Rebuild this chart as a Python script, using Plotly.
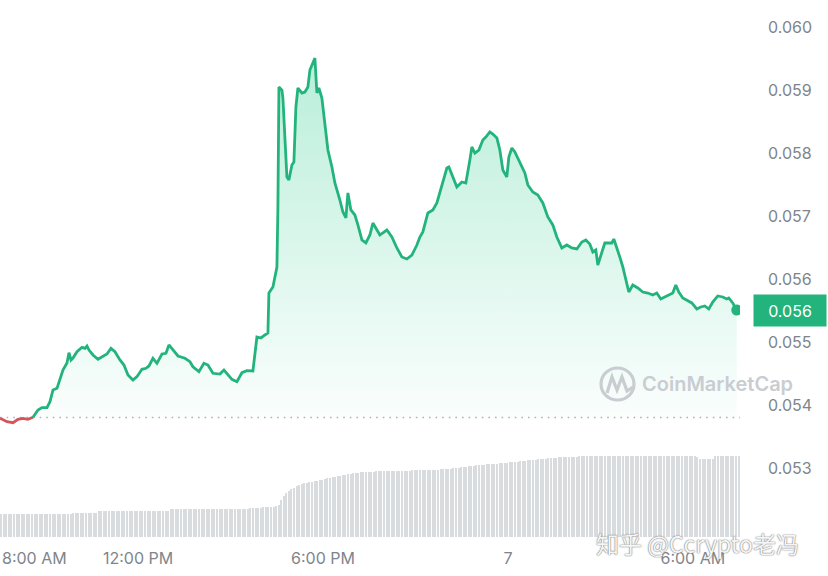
import plotly.graph_objects as go

# ---- price series (hours since 00:00 of day 6, price in USD) ----
hours = [7.520, 7.747, 7.942, 8.104, 8.266, 8.428, 8.590, 8.753, 8.882, 9.044, 9.142, 9.239,
         9.369, 9.466, 9.563, 9.693, 9.758, 9.823, 9.888, 10.018, 10.180, 10.277, 10.342, 10.407,
         10.537, 10.699, 10.861, 10.991, 11.120, 11.250, 11.412, 11.542, 11.672, 11.834, 11.964, 12.126,
         12.256, 12.353, 12.483, 12.612, 12.775, 12.904, 13.002, 13.131, 13.294, 13.521, 13.683, 13.780,
         13.975, 14.137, 14.267, 14.429, 14.656, 14.786, 14.915, 15.045, 15.207, 15.370, 15.532, 15.726,
         15.856, 15.986, 16.116, 16.213, 16.245, 16.375, 16.505, 16.537, 16.570, 16.667, 16.699, 16.764,
         16.829, 16.894, 16.991, 17.056, 17.121, 17.186, 17.316, 17.413, 17.510, 17.575, 17.672, 17.737,
         17.802, 17.867, 17.964, 18.062, 18.159, 18.289, 18.386, 18.548, 18.646, 18.743, 18.808, 18.905,
         19.035, 19.132, 19.262, 19.392, 19.521, 19.619, 19.748, 19.846, 19.943, 20.073, 20.235, 20.397,
         20.559, 20.721, 20.884, 21.046, 21.143, 21.240, 21.403, 21.565, 21.695, 21.857, 22.019, 22.084,
         22.214, 22.343, 22.505, 22.635, 22.765, 22.830, 22.927, 23.057, 23.187, 23.284, 23.414, 23.511,
         23.641, 23.738, 23.835, 23.965, 24.030, 24.127, 24.225, 24.387, 24.549, 24.646, 24.808, 24.971,
         25.133, 25.295, 25.457, 25.587, 25.749, 25.911, 26.073, 26.236, 26.398, 26.527, 26.657, 26.755,
         26.852, 26.917, 27.046, 27.144, 27.241, 27.371, 27.436, 27.533, 27.630, 27.728, 27.857, 27.922,
         28.052, 28.214, 28.376, 28.538, 28.701, 28.830, 28.960, 29.090, 29.252, 29.349, 29.446, 29.544,
         29.673, 29.803, 29.965, 30.128, 30.257, 30.387, 30.517, 30.646, 30.808, 30.971, 31.100, 31.165,
         31.295, 31.425]

price = [0.053789, 0.053735, 0.053720, 0.053773, 0.053789, 0.053773, 0.053805, 0.053921, 0.053958, 0.053958, 0.054053, 0.054239,
         0.054265, 0.054397, 0.054556, 0.054667, 0.054831, 0.054715, 0.054746, 0.054846, 0.054916, 0.054900, 0.054937, 0.054873,
         0.054794, 0.054726, 0.054767, 0.054810, 0.054900, 0.054846, 0.054715, 0.054635, 0.054477, 0.054397, 0.054450, 0.054567,
         0.054583, 0.054620, 0.054742, 0.054662, 0.054810, 0.054821, 0.054953, 0.054873, 0.054778, 0.054742, 0.054688, 0.054608,
         0.054529, 0.054662, 0.054635, 0.054504, 0.054492, 0.054556, 0.054477, 0.054408, 0.054370, 0.054513, 0.054545, 0.054540,
         0.055080, 0.055064, 0.055112, 0.055143, 0.055778, 0.055873, 0.056191, 0.057143, 0.059048, 0.059000, 0.058873, 0.058207,
         0.057620, 0.057572, 0.057810, 0.057858, 0.058731, 0.059032, 0.058953, 0.058969, 0.059048, 0.059318, 0.059445, 0.059508,
         0.058953, 0.059032, 0.058873, 0.058477, 0.058048, 0.057778, 0.057524, 0.057254, 0.057064, 0.056969, 0.057366, 0.057096,
         0.057016, 0.056858, 0.056620, 0.056572, 0.056699, 0.056889, 0.056778, 0.056699, 0.056731, 0.056778, 0.056667, 0.056493,
         0.056350, 0.056318, 0.056381, 0.056540, 0.056667, 0.056747, 0.057048, 0.057096, 0.057207, 0.057493, 0.057762, 0.057778,
         0.057604, 0.057461, 0.057540, 0.057524, 0.057889, 0.058096, 0.058000, 0.058048, 0.058207, 0.058254, 0.058334, 0.058302,
         0.058239, 0.058048, 0.057731, 0.057620, 0.057937, 0.058080, 0.058016, 0.057842, 0.057683, 0.057493, 0.057381, 0.057334,
         0.057207, 0.056985, 0.056858, 0.056667, 0.056493, 0.056540, 0.056493, 0.056477, 0.056588, 0.056620, 0.056556, 0.056429,
         0.056461, 0.056223, 0.056413, 0.056572, 0.056572, 0.056572, 0.056635, 0.056508, 0.056350, 0.056191, 0.055953, 0.055794,
         0.055905, 0.055858, 0.055794, 0.055778, 0.055747, 0.055778, 0.055683, 0.055715, 0.055762, 0.055778, 0.055905, 0.055794,
         0.055699, 0.055667, 0.055620, 0.055524, 0.055556, 0.055572, 0.055524, 0.055635, 0.055731, 0.055715, 0.055683, 0.055699,
         0.055620, 0.055508]

open_price = 0.053802

# ---- volume bars (5-minute buckets, arbitrary units) ----
volume = [2.30, 2.30, 2.28, 2.30, 2.32, 2.30, 2.30, 2.29, 2.30, 2.31, 2.30, 2.30,
          2.30, 2.32, 2.30, 2.30, 2.31, 2.30, 2.29, 2.30, 2.30, 2.32, 2.30, 2.31,
          2.30, 2.30, 2.30, 2.31, 2.43, 2.44, 2.43, 2.45, 2.44, 2.43, 2.44, 2.45,
          2.44, 2.45, 2.58, 2.60, 2.61, 2.60, 2.60, 2.62, 2.60, 2.61, 2.60, 2.60,
          2.62, 2.61, 2.60, 2.61, 2.62, 2.60, 2.61, 2.62, 2.63, 2.62, 2.61, 2.62,
          2.63, 2.62, 2.63, 2.64, 2.63, 2.64, 2.76, 2.77, 2.76, 2.78, 2.77, 2.77,
          2.78, 2.77, 2.78, 2.79, 2.78, 2.78, 2.79, 2.78, 2.79, 2.80, 2.79, 2.79,
          2.80, 2.80, 2.79, 2.80, 2.81, 2.80, 2.80, 2.81, 2.82, 2.81, 2.82, 2.83,
          2.84, 2.86, 2.88, 2.90, 2.92, 2.94, 2.96, 2.98, 3.00, 3.02, 3.05, 3.10,
          3.20, 3.70, 4.10, 4.40, 4.60, 4.80, 4.90, 5.10, 5.20, 5.30, 5.40, 5.45,
          5.50, 5.55, 5.60, 5.65, 5.70, 5.75, 5.85, 5.90, 5.95, 6.00, 6.05, 6.10,
          6.15, 6.20, 6.25, 6.30, 6.35, 6.40, 6.40, 6.45, 6.50, 6.50, 6.50, 6.52,
          6.55, 6.55, 6.57, 6.58, 6.60, 6.60, 6.60, 6.62, 6.62, 6.63, 6.63, 6.64,
          6.64, 6.65, 6.65, 6.65, 6.66, 6.66, 6.67, 6.68, 6.68, 6.70, 6.71, 6.72,
          6.73, 6.74, 6.75, 6.76, 6.78, 6.80, 6.82, 6.85, 6.88, 6.92, 6.95, 6.98,
          7.00, 7.03, 7.06, 7.10, 7.13, 7.16, 7.20, 7.22, 7.24, 7.26, 7.28, 7.30,
          7.32, 7.35, 7.37, 7.40, 7.42, 7.45, 7.47, 7.50, 7.52, 7.55, 7.58, 7.60,
          7.63, 7.66, 7.70, 7.72, 7.75, 7.78, 7.80, 7.82, 7.85, 7.88, 7.90, 7.93,
          7.95, 7.97, 7.99, 8.00, 8.02, 8.03, 8.04, 8.05, 8.05, 8.06, 8.06, 8.07,
          8.07, 8.08, 8.08, 8.08, 8.09, 8.08, 8.09, 8.10, 8.09, 8.10, 8.10, 8.09,
          8.10, 8.10, 8.10, 8.11, 8.10, 8.10, 8.11, 8.10, 8.10, 8.10, 8.11, 8.10,
          8.10, 8.10, 8.09, 8.10, 8.10, 8.11, 8.10, 8.10, 8.10, 8.10, 8.09, 8.10,
          8.10, 8.10, 8.10, 8.10, 8.09, 8.08, 8.06, 8.04, 7.80, 7.80, 7.82, 7.80,
          7.81, 7.80, 8.10, 8.10, 8.12, 8.10, 8.11, 8.10, 8.12, 8.10, 8.11, 8.12]

window_start, window_end = 7.52, 31.53
bar_step = (window_end - window_start) / len(volume)
bar_hours = [window_start + (i + 0.5) * bar_step for i in range(len(volume))]

y_ticks = [0.053, 0.054, 0.055, 0.056, 0.057, 0.058, 0.059, 0.060]
y_tick_text = ["0.053", "0.054", "0.055", "0.056", "0.057", "0.058", "0.059", "0.060"]
x_tick_vals = [12, 18, 24, 30]
x_tick_text = ["12:00 PM", "6:00 PM", "7", "6:00 AM"]
first_label = "8:00 AM"

GREEN = "#22b47c"
RED = "#d4545c"
GRAY_TXT = "#80858b"

n_red = 7
red_x, red_y = hours[:n_red], price[:n_red]
grn_x, grn_y = hours[n_red - 1:], price[n_red - 1:]

fig = go.Figure()

fig.add_trace(go.Bar(x=bar_hours, y=volume, yaxis="y2", width=bar_step * 0.5,
                     marker=dict(color="#d8dcdf", line=dict(width=0)), hoverinfo="skip"))

fig.add_trace(go.Scatter(x=[window_start, window_end], y=[open_price, open_price], mode="lines",
                         line=dict(color="#aeb2b7", width=1.6, dash="1.6px,5px"), hoverinfo="skip"))

fig.add_trace(go.Scatter(
    x=grn_x + [grn_x[-1], grn_x[0]], y=grn_y + [open_price, open_price],
    mode="none", fill="toself",
    fillgradient=dict(type="vertical",
                      colorscale=[[0, "rgba(22,199,132,0.02)"], [1, "rgba(22,199,132,0.30)"]],
                      start=open_price, stop=max(price)),
    hoverinfo="skip"))

fig.add_trace(go.Scatter(x=red_x, y=red_y, mode="lines", line=dict(color=RED, width=2.8)))
fig.add_trace(go.Scatter(x=grn_x, y=grn_y, mode="lines", line=dict(color=GREEN, width=2.8)))
fig.add_trace(go.Scatter(x=[hours[-1]], y=[price[-1]], mode="markers",
                         marker=dict(color=GREEN, size=11)))

W, H = 828, 576
ML, MR, MT, MB = 0, 88, 0, 39
PW, PH = W - ML - MR, H - MT - MB


def px(xp):
    return (xp - ML) / PW


def py(yp):
    return (H - MB - yp) / PH


# CoinMarketCap-like logo
fig.add_shape(type="circle", xref="paper", yref="paper",
              x0=px(601), x1=px(634), y0=py(400), y1=py(368),
              line=dict(color="#c9cdd1", width=3.2))
logo_pts = [(607, 393), (612, 377), (617, 390), (622, 377), (627, 391), (633, 387)]
path = "M " + " L ".join(f"{px(a):.4f},{py(b):.4f}" for a, b in logo_pts)
fig.add_shape(type="path", xref="paper", yref="paper", path=path,
              line=dict(color="#c9cdd1", width=3.2))

fig.add_annotation(text="CoinMarketCap", xref="paper", yref="paper", x=px(640), y=py(384),
                   xanchor="left", yanchor="middle", showarrow=False,
                   font=dict(family="Inter", size=20, color="#c9cdd1", weight=600))

fig.add_annotation(text=first_label, xref="paper", yref="paper", x=0, y=0, yshift=-21,
                   xanchor="left", yanchor="middle", showarrow=False,
                   font=dict(family="Inter", size=16, color=GRAY_TXT))

fig.add_annotation(text=f"{price[-1]:.3f}", xref="paper", yref="y", x=px(790), y=price[-1],
                   xanchor="center", yanchor="middle", showarrow=False, width=70, height=29,
                   bgcolor=GREEN, font=dict(family="Inter", size=16, color="white"))

fig.add_annotation(text="知乎 @Ccrypto老冯", xref="paper", yref="paper", x=px(697), y=py(543),
                   xanchor="center", yanchor="middle", showarrow=False,
                   font=dict(family="Noto Sans CJK SC", size=23, color="rgba(255,255,255,0.95)",
                             shadow="0px 0px 1.5px #666666, 0px 0px 1px #888888"))

fig.update_layout(
    width=W, height=H, margin=dict(l=ML, r=MR, t=MT, b=MB),
    paper_bgcolor="white", plot_bgcolor="white", showlegend=False, bargap=0,
    xaxis=dict(range=[window_start, window_end], tickvals=x_tick_vals, ticktext=x_tick_text,
               showgrid=False, zeroline=False, showline=False, ticks="", ticklabelstandoff=10,
               tickfont=dict(family="Inter", size=16, color=GRAY_TXT)),
    yaxis=dict(range=[0.051905, 0.060429], side="right", tickvals=y_ticks, ticktext=y_tick_text,
               showgrid=False, zeroline=False, showline=False, ticks="", ticklabelstandoff=27,
               tickfont=dict(family="Inter", size=16, color=GRAY_TXT)),
    yaxis2=dict(overlaying="y", range=[0, 53.7], visible=False),
)

fig.write_html("out.html", config={"displayModeBar": False},
               post_script="document.body.style.margin='0px';document.body.style.overflow='hidden';")
